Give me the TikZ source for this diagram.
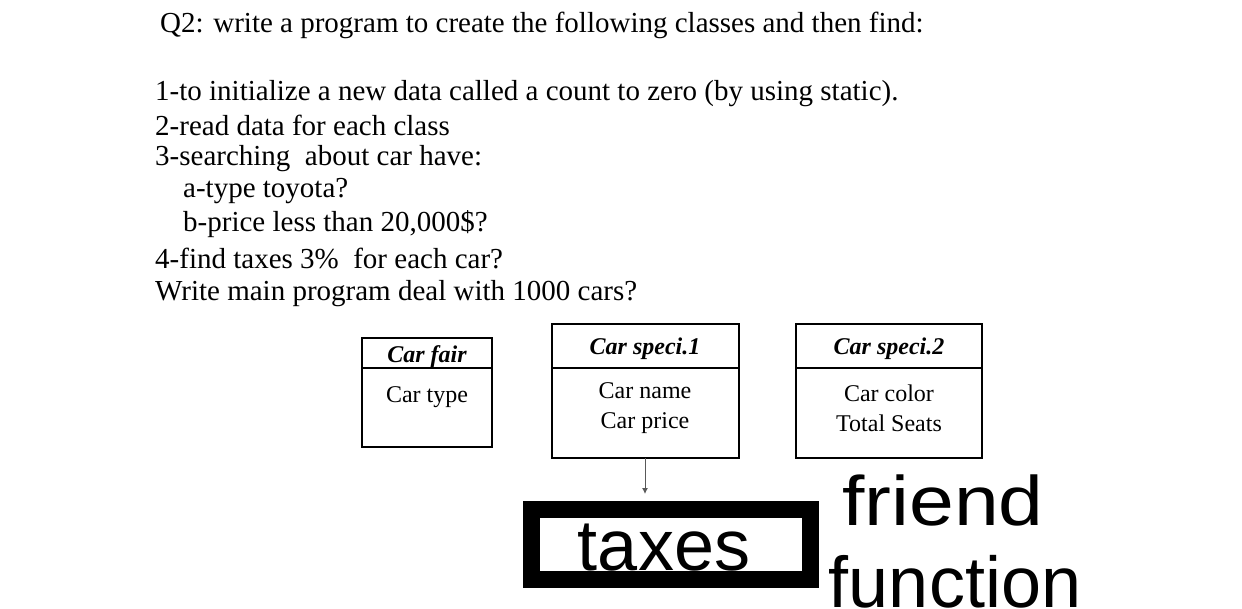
\documentclass[tikz,border=0pt]{standalone}
\usepackage{fontspec}
\usetikzlibrary{arrows.meta}
\setmainfont{Liberation Serif}
\newfontfamily\sansf{Liberation Sans}
\begin{document}
\begin{tikzpicture}[x=1pt,y=-1pt,
  txt/.style={anchor=west,inner sep=0pt,font=\fontsize{29}{32}\selectfont},
  bx/.style={draw,line width=1.2pt},
  cls/.style={font=\fontsize{24}{28}\selectfont\itshape\bfseries,inner sep=0pt},
  att/.style={font=\fontsize{24}{30}\selectfont,align=center,inner sep=0pt}]
\useasboundingbox (0,0) rectangle (1242,609);
\fill[white] (0,0) rectangle (1242,609);
\node[txt] (q) at (160,25) {Q2: write a program to create the following classes and then find:};
\node[txt] (l1) at (155,94) {1-to initialize a new data called a count to zero (by using static).};
\node[txt] (l2) at (155,125) {2-read data for each class};
\node[txt] (l3) at (155,159) {3-searching\ \ about car have:};
\node[txt] (l4) at (183,191) {a-type toyota?};
\node[txt] (l5) at (183,224) {b-price less than 20,000\$?};
\node[txt] (l6) at (155,258) {4-find taxes 3\%\ \ for each car?};
\node[txt] (l7) at (155,294) {Write main program deal with 1000 cars?};
% boxes
\draw[bx] (362,338) rectangle (492,447); \draw[bx] (362,368) -- (492,368);
\node[cls] (c1) at (427,357) {Car fair};
\node[att] (a1) at (427,397) {Car type};
\draw[bx] (552,324) rectangle (739,458); \draw[bx] (552,368) -- (739,368);
\node[cls] (c2) at (645,349) {Car speci.1};
\node[att] (a2) at (645,408) {Car name\\Car price};
\draw[bx] (796,324) rectangle (982,458); \draw[bx] (796,368) -- (982,368);
\node[cls] (c3) at (889,349) {Car speci.2};
\node[att] (a3) at (889,408) {Car color\\Total Seats};
\coordinate (s) at (645,458);
\coordinate (e) at (645,494);
\draw[line width=17pt] (531.5,509) rectangle (810.5,579.5);
\node[font=\sansf\fontsize{72}{72}\selectfont,inner sep=0pt] (tx) at (664,548) {taxes};
\draw[-{Latex[length=6pt,width=6pt]},line width=1pt,gray!70!black] (s) -- (e);
\node[font=\sansf\fontsize{70}{70}\selectfont,inner sep=0pt,xscale=1.15] (f1) at (943,500) {friend};
\node[font=\sansf\fontsize{72}{72}\selectfont,inner sep=0pt] (f2) at (955,582) {function};
\end{tikzpicture}
\end{document}
